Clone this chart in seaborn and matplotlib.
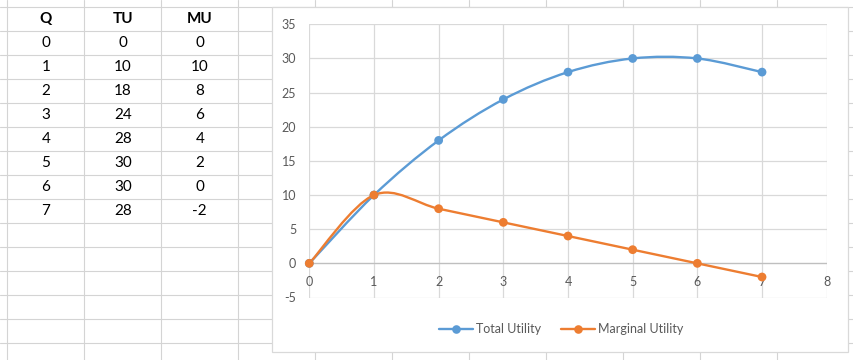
import numpy as np
import pandas as pd
import seaborn as sns
import matplotlib.pyplot as plt
from matplotlib.path import Path
from matplotlib.patches import PathPatch, Rectangle
from matplotlib.lines import Line2D

# data
q = [0, 1, 2, 3, 4, 5, 6, 7]
tu = [0, 10, 18, 24, 28, 30, 30, 28]
mu = [0, 10, 8, 6, 4, 2, 0, -2]
headers = ['Q', 'TU', 'MU']
series_names = ['Total Utility', 'Marginal Utility']
x_ticks = [0, 1, 2, 3, 4, 5, 6, 7, 8]
y_ticks = [-5, 0, 5, 10, 15, 20, 25, 30, 35]

BLUE = '#5B9BD5'
ORANGE = '#ED7D31'
TXT = '#595959'
GRID = '#D9D9D9'
SHEET = '#D4D4D4'

sns.set_theme(style='white')
plt.rcParams['font.family'] = ['Lato', 'DejaVu Sans']


def smooth_path(x, y):
    # excel style smoothed line: cubic bezier through every point
    pts = np.column_stack([x, y]).astype(float)
    n = len(pts)
    verts = [pts[0]]
    codes = [Path.MOVETO]
    for i in range(n - 1):
        p0 = pts[max(i - 1, 0)]
        p1 = pts[i]
        p2 = pts[i + 1]
        p3 = pts[min(i + 2, n - 1)]
        verts += [p1 + (p2 - p0) / 6, p2 - (p3 - p1) / 6, p2]
        codes += [Path.CURVE4] * 3
    return Path(verts, codes)


W, H = 854, 360
fig = plt.figure(figsize=(W / 100, H / 100), dpi=100)

# spreadsheet background, pixel coordinates
bg = fig.add_axes([0, 0, 1, 1])
bg.set_xlim(0, W)
bg.set_ylim(H, 0)
bg.axis('off')
for k in range(12):
    bg.axvline(7.3 + 77.0 * k, color=SHEET, lw=0.8)
for k in range(15):
    bg.axhline(6.6 + 24 * k, color=SHEET, lw=0.8)

col_x = [45.8, 122.8, 199.8]
table = pd.DataFrame({'Q': q, 'TU': tu, 'MU': mu})
for c, name in enumerate(headers):
    bg.text(col_x[c], 18.6, name, ha='center', va='center', fontsize=11,
            fontweight='bold', color='black')
    for r, v in enumerate(table[name]):
        bg.text(col_x[c], 42.6 + 24 * r, str(v), ha='center', va='center',
                fontsize=11, color='black')

# chart area
bg.add_patch(Rectangle((271.7, 7.3), 576.0, 344.4, facecolor='white',
                       edgecolor=GRID, lw=0.9, zorder=3))

left, right, top, bottom = 309.3, 826.7, 24.3, 297.5
ax = fig.add_axes([left / W, 1 - bottom / H, (right - left) / W, (bottom - top) / H])
ax.set_facecolor('none')
ax.set_zorder(5)
ax.set_xlim(0, 8)
ax.set_ylim(-5, 35)
ax.set_xticks(x_ticks)
ax.set_yticks(y_ticks)
ax.grid(True, color=GRID, lw=0.9)
ax.axhline(0, color='#BFBFBF', lw=0.9, zorder=1)
for s in ax.spines.values():
    s.set_visible(False)
ax.tick_params(length=0, labelsize=9, labelcolor=TXT, pad=9.5)
ax.set_xticklabels([])
ax.set_yticklabels([str(t) for t in y_ticks])
for t in x_ticks:
    ax.annotate(str(t), xy=(t, 0), xytext=(0, -13.5), textcoords='offset points',
                ha='center', va='center', fontsize=9, color=TXT)

df = pd.DataFrame({'Q': q * 2, 'value': tu + mu,
                   'series': [series_names[0]] * len(q) + [series_names[1]] * len(q)})
for name, vals, col in [(series_names[0], tu, BLUE), (series_names[1], mu, ORANGE)]:
    ax.add_patch(PathPatch(smooth_path(q, vals), fill=False, edgecolor=col,
                           lw=1.7, capstyle='round', zorder=3))
sns.scatterplot(data=df, x='Q', y='value', hue='series',
                palette=[BLUE, ORANGE], s=40, edgecolor='none',
                legend=False, ax=ax, zorder=4, clip_on=False)
ax.set_xlabel('')
ax.set_ylabel('')

handles = [Line2D([], [], color=c, lw=1.7, marker='o', markersize=6.2,
                  markeredgewidth=0) for c in (BLUE, ORANGE)]
fig.legend(handles, series_names, loc='center', ncol=2,
           bbox_to_anchor=(561 / W, 1 - 329 / H), frameon=False,
           fontsize=9, labelcolor=TXT, handlelength=2.7, handletextpad=0.25,
           columnspacing=1.6)

fig.savefig('out.png', dpi=100)
